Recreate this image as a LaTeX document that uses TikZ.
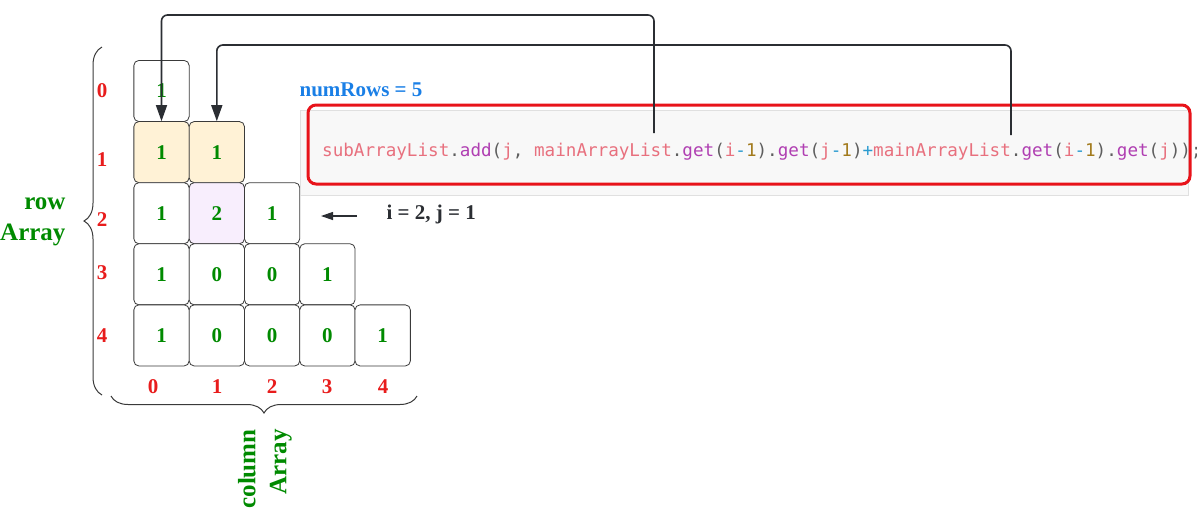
\documentclass[tikz,border=0pt]{standalone}
\usepackage{fontspec}
\setmainfont{Liberation Serif}
\setmonofont{DejaVu Sans Mono}
\usetikzlibrary{arrows.meta,calc,decorations.pathreplacing}

\definecolor{cellline}{HTML}{3A3A3A}
\definecolor{numgreen}{HTML}{008A00}
\definecolor{idxred}{HTML}{E81C1C}
\definecolor{rowsblue}{HTML}{1A7FE6}
\definecolor{hlyellow}{HTML}{FFF2D6}
\definecolor{hlpurple}{HTML}{F8EEFD}
\definecolor{boxred}{HTML}{E8131A}
\definecolor{linkgray}{HTML}{2B2E33}
\definecolor{codebg}{HTML}{F8F8F8}
\definecolor{codeid}{HTML}{E8707E}
\definecolor{codefn}{HTML}{B03FB2}
\definecolor{codenum}{HTML}{A27A1C}
\definecolor{codepu}{HTML}{5E5E5E}
\definecolor{codeop}{HTML}{2A9BD0}

\newcommand{\cid}[1]{\textcolor{codeid}{#1}}
\newcommand{\cfn}[1]{\textcolor{codefn}{#1}}
\newcommand{\cnum}[1]{\textcolor{codenum}{#1}}
\newcommand{\cpu}[1]{\textcolor{codepu}{#1}}
\newcommand{\cop}[1]{\textcolor{codeop}{#1}}

\begin{document}
\begin{tikzpicture}[
  x=1pt, y=-1pt,
  cell/.style={draw=cellline, line width=0.8pt, rounded corners=5pt,
    minimum width=55.3pt, minimum height=61.1pt, inner sep=0pt,
    font=\fontsize{21}{24}\selectfont\bfseries, text=numgreen},
  idx/.style={font=\fontsize{21}{24}\selectfont\bfseries, text=idxred},
  axisname/.style={font=\fontsize{25}{31}\selectfont\bfseries, text=numgreen, align=right},
  link/.style={-{Triangle[length=16pt,width=11pt]}, line width=1.6pt, linkgray, rounded corners=6pt},
  pointer/.style={-{Triangle[length=12pt,width=8pt]}, line width=1.2pt, linkgray},
  curly/.style={decorate, line width=1pt, cellline},
]
\useasboundingbox (0,0) rectangle (1197,515);

% === TRIANGLE OF CELLS ===
\foreach \r/\c/\v/\f in {0/0/1/white,
    1/0/1/hlyellow, 1/1/1/hlyellow,
    2/0/1/white, 2/1/2/hlpurple, 2/2/1/white,
    3/0/1/white, 3/1/0/white, 3/2/0/white, 3/3/1/white,
    4/0/1/white, 4/1/0/white, 4/2/0/white, 4/3/0/white, 4/4/1/white}
  \node[cell, fill=\f] (c\r\c) at ({161.5+55.3*\c},{91+61.1*\r}) {\v};

% row and column indices
\foreach \r/\y in {0/91, 1/160, 2/220, 3/273, 4/336}
  \node[idx] (row\r) at (102,\y) {\r};
\foreach \c/\x in {0/153, 1/217, 2/272, 3/327, 4/383}
  \node[idx] (col\c) at (\x,387) {\c};

% braces
\draw[curly, decoration={brace, amplitude=18pt}] (102,395) -- (102,47);
\draw[curly, decoration={brace, amplitude=17pt}] (417,396) -- (111,396);

\node[axisname, anchor=east] (rowname) at (69,222) {row\\Array};
\node[axisname, rotate=90] (colname) at (265,469) {column\\Array};

% === CODE LINE ===
\node[rowsblue, font=\fontsize{21}{24}\selectfont\bfseries] (numrows) at (361,90) {numRows = 5};

\fill[codebg, draw=black!12] (300,110) rectangle (1188,195);
\draw[boxred, line width=3pt, rounded corners=8pt] (308,105) rectangle (1190,184);
\node[anchor=base west, inner sep=0pt, font=\ttfamily\fontsize{17.6}{20}\selectfont] (code) at (322,156)
  {\cid{subArrayList}\cpu{.}\cfn{add}\cpu{(}\cid{j}\cpu{, }\cid{mainArrayList}\cpu{.}\cfn{get}\cpu{(}\cid{i}\cop{-}\cnum{1}\cpu{).}\cfn{get}\cpu{(}\cid{j}\cop{-}\cnum{1}\cpu{)}\cop{+}\cid{mainArrayList}\cpu{.}\cfn{get}\cpu{(}\cid{i}\cop{-}\cnum{1}\cpu{).}\cfn{get}\cpu{(}\cid{j}\cpu{));}};

% links from the two get() calls back to the cells of row 1
\coordinate (src1) at (654,133);
\coordinate (src2) at (1011,135);
\draw[link] (src1) -- (654,15) -| (c10.north);
\draw[link] (src2) -- (1011,45) -| (c11.north);

% current position
\node[anchor=west, text=linkgray, font=\fontsize{21}{24}\selectfont\bfseries] (ij) at (383,214) {i = 2, j = 1};
\draw[pointer] ([xshift=-26pt,yshift=-2pt]ij.west) -- ++(-36,0);
\end{tikzpicture}
\end{document}
